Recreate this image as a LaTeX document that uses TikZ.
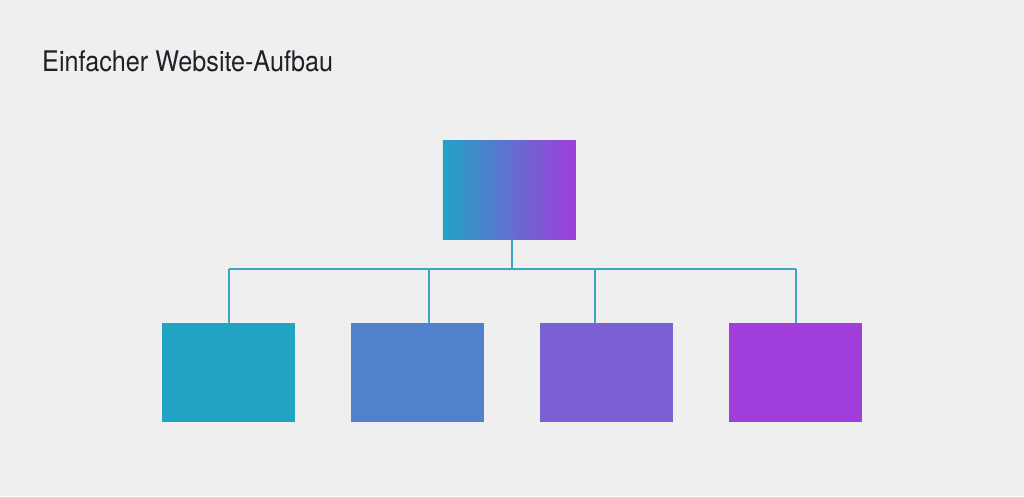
\documentclass[tikz,border=0pt]{standalone}
\usepackage{fontspec}
\setmainfont{TeX Gyre Heros}
\newfontfamily\titlefont[FakeStretch=0.887]{TeX Gyre Heros}
\usetikzlibrary{positioning}
\definecolor{bg}{HTML}{EFEFEF}
\definecolor{teal1}{HTML}{21A3C4}
\definecolor{blue2}{HTML}{4F81CD}
\definecolor{violet3}{HTML}{7B60D3}
\definecolor{purple4}{HTML}{A03DDB}
\definecolor{wire}{HTML}{3BA6C6}
\definecolor{ink}{HTML}{1E2128}

\begin{document}
\begin{tikzpicture}[x=1pt,y=-1pt]
\tikzstyle{page}=[rectangle,draw=none,
inner sep=0pt,outer sep=0pt,
minimum width=133pt,minimum height=99pt,node distance=189pt]
\tikzstyle{link}=[draw=wire,line width=1.8pt]
\fill[bg] (0,0) rectangle (1024,496);
\useasboundingbox (0,0) rectangle (1024,496);

\node[anchor=base west,inner sep=0pt,text=ink,font=\titlefont\fontsize{28.4}{30}\selectfont] at (42,71.7) (title) {Einfacher Website-Aufbau};

\node[page,left color=teal1,right color=purple4] at (509.4,189.7) (0) {};
\node[page,fill=teal1] at (228.7,372.7) (1) {};
\node[page,fill=blue2,right of =1] (2) {};
\node[page,fill=violet3,right of =2] (3) {};
\node[page,fill=purple4,right of =3] (4) {};

\coordinate (b0) at (511.7,268.8);
\coordinate (b1) at (1 |- b0);
\coordinate (b2) at (428.8,268.8);
\coordinate (b3) at (595.2,268.8);
\coordinate (b4) at (4 |- b0);

\path[link] (0.south -| b0) -- (b0) ;
\path[link] (b1) -- (b4) ;
\path[link] (b1) -- (1.north) ;
\path[link] (b2) -- (b2 |- 2.north) ;
\path[link] (b3) -- (b3 |- 3.north) ;
\path[link] (b4) -- (4.north) ;

\end{tikzpicture}
\end{document}
